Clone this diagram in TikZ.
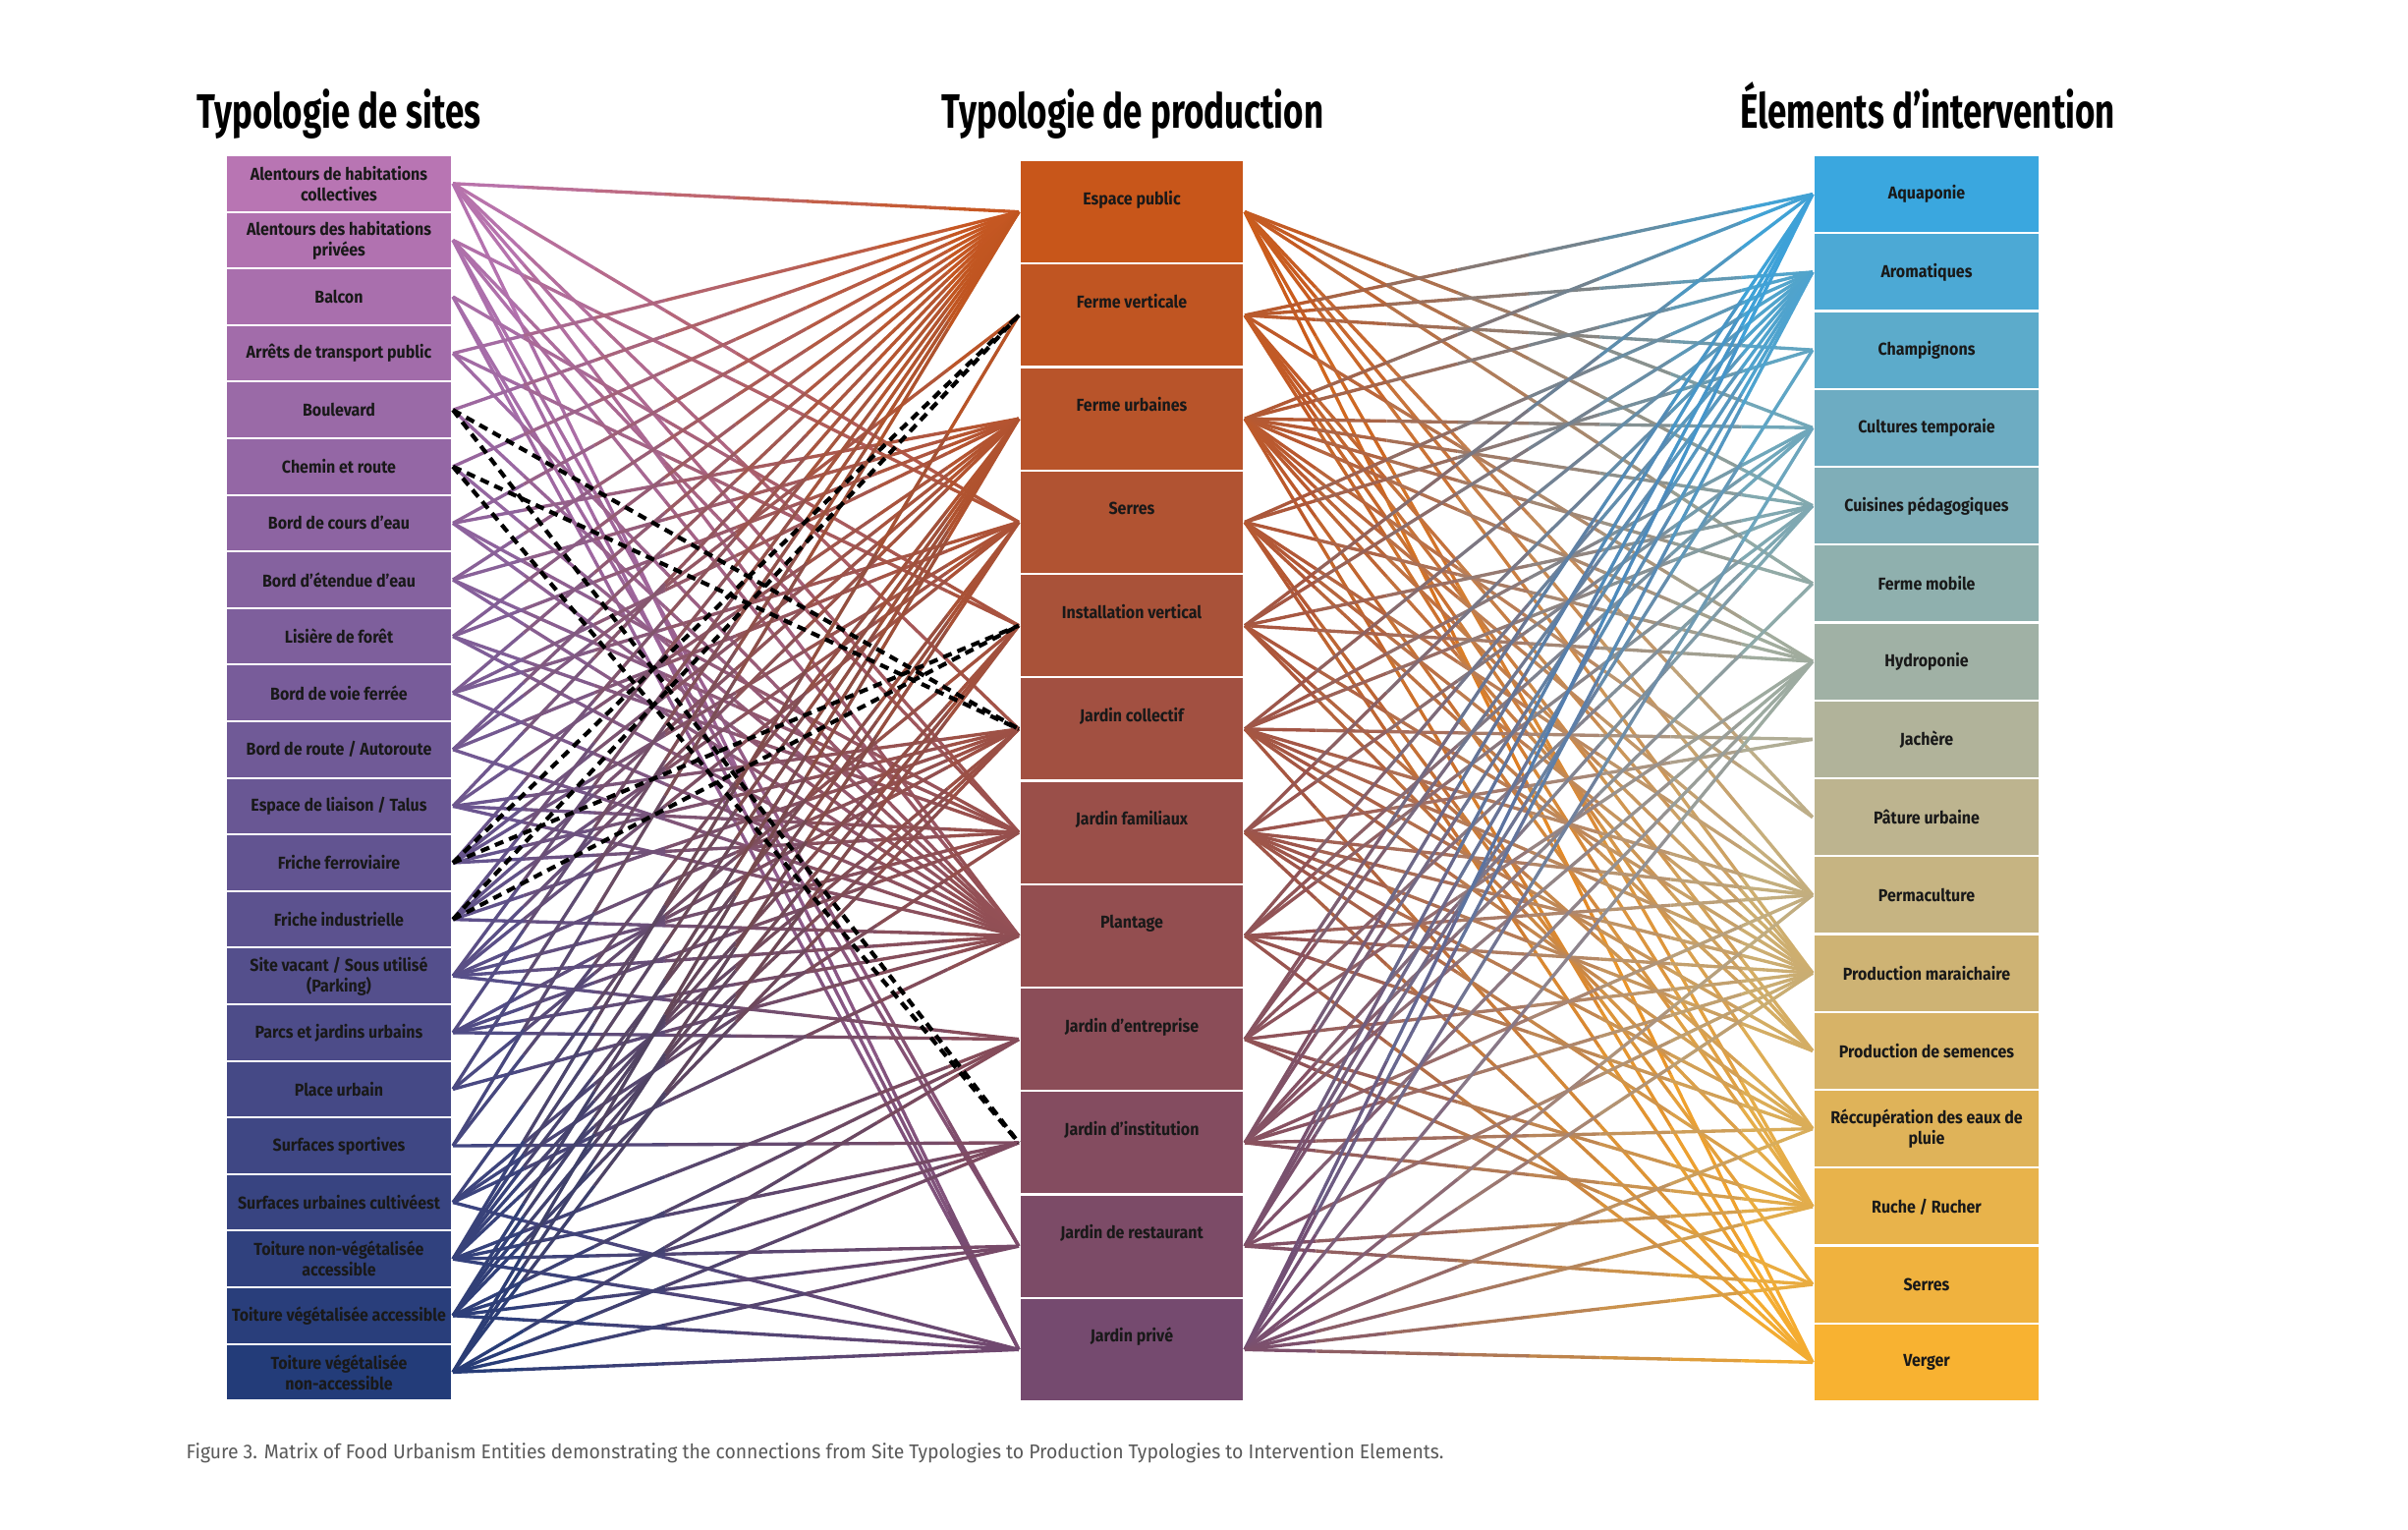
\documentclass[tikz,border=0pt]{standalone}
\usepackage{fontspec}
\newfontfamily\cellfont{Fira Sans}[FakeStretch=0.91]
\newfontfamily\titlefont{Fira Sans}[FakeStretch=0.71]
\newfontfamily\captionfont{Fira Sans}[FakeStretch=0.95]
\usepackage{tikz}
\usetikzlibrary{calc,positioning}
\definecolor{siteTop}{HTML}{B875B3}
\definecolor{siteBot}{HTML}{233C79}
\definecolor{prodTop}{HTML}{C8561A}
\definecolor{prodBot}{HTML}{754A6F}
\definecolor{elemTop}{HTML}{3AA7DF}
\definecolor{elemMid}{HTML}{B9B496}
\definecolor{elemBot}{HTML}{F8B231}
\tikzstyle{cell} = [draw=white, line width=0.6pt, inner sep=0pt, align=center, text=black!90, font=\cellfont\bfseries\fontsize{5}{6}\selectfont]
\tikzstyle{sitecell} = [cell, minimum width=2.30cm, minimum height=0.576cm]
\tikzstyle{prodcell} = [cell, minimum width=2.28cm, minimum height=1.0525cm, text height=0.12cm, text depth=0.27cm]
\tikzstyle{elemcell} = [cell, minimum width=2.30cm, minimum height=0.7925cm]
\tikzstyle{linkline} = [line width=0.95pt]
\tikzstyle{dashlink} = [draw=black, line width=1.2pt, dash pattern=on 2.6pt off 1.8pt]
\tikzstyle{coltitle} = [anchor=base, font=\titlefont\bfseries\fontsize{14}{16}\selectfont]
\tikzset{>=latex}
\newcommand{\gradlink}[4]{%
  \foreach \k in {0,...,7}{%
    \pgfmathsetmacro{\lkA}{\k/8}%
    \pgfmathsetmacro{\lkB}{(\k+1)/8}%
    \pgfmathtruncatemacro{\lkP}{94-12.5*\k}%
    \draw[linkline, draw=#3!\lkP!#4] ($(#1)!\lkA!(#2)$) -- ($(#1)!\lkB!(#2)$);
  }}

\begin{document}
\begin{tikzpicture}
  \useasboundingbox (0,0) rectangle (24.51,-15.56);
  \foreach \i in {1,...,22}{\pgfmathtruncatemacro{\lkP}{100-100*(\i-1)/21}\xglobal\colorlet{cL\i}{siteTop!\lkP!siteBot}}
  \foreach \i in {1,...,12}{\pgfmathtruncatemacro{\lkP}{100-100*(\i-1)/11}\xglobal\colorlet{cM\i}{prodTop!\lkP!prodBot}}
  \foreach \i in {1,...,16}{%
    \ifnum\i<9
      \pgfmathtruncatemacro{\lkP}{100-100*(\i-1)/7.5}\xglobal\colorlet{cE\i}{elemTop!\lkP!elemMid}
    \else
      \pgfmathtruncatemacro{\lkP}{100-100*(\i-8.5)/7.5}\xglobal\colorlet{cE\i}{elemMid!\lkP!elemBot}
    \fi}

  \node[coltitle] (sitetitle) at (3.45,-1.31) {Typologie de sites};
  \node[coltitle] (prodtitle) at (11.53,-1.31) {Typologie de production};
  \node[coltitle] (elemtitle) at (19.62,-1.31) {Élements d’intervention};

  \foreach \txt [count=\i] in {Alentours de habitations\\collectives, Alentours des habitations\\privées, Balcon, Arrêts de transport public, Boulevard, Chemin et route, Bord de cours d’eau, Bord d’étendue d’eau, Lisière de forêt, Bord de voie ferrée, Bord de route / Autoroute, Espace de liaison / Talus, Friche ferroviaire, Friche industrielle, Site vacant / Sous utilisé\\(Parking), Parcs et jardins urbains, Place urbain, Surfaces sportives, Surfaces urbaines cultivéest, Toiture non-végétalisée\\accessible, Toiture végétalisée accessible, Toiture végétalisée\\non-accessible}
    \node[sitecell, fill=cL\i] (s\i) at (3.45,{-1.58-0.576*(\i-0.5)}) {\txt};

  \foreach \txt [count=\i] in {Espace public, Ferme verticale, Ferme urbaines, Serres, Installation vertical, Jardin collectif, Jardin familiaux, Plantage, Jardin d’entreprise, Jardin d’institution, Jardin de restaurant, Jardin privé}
    \node[prodcell, fill=cM\i] (p\i) at (11.52,{-1.63-1.0525*(\i-0.5)}) {\txt};

  \foreach \txt [count=\i] in {Aquaponie, Aromatiques, Champignons, Cultures temporaie, Cuisines pédagogiques, Ferme mobile, Hydroponie, Jachère, Pâture urbaine, Permaculture, Production maraichaire, Production de semences, Réccupération des eaux de\\pluie, Ruche / Rucher, Serres, Verger}
    \node[elemcell, fill=cE\i] (e\i) at (19.61,{-1.58-0.7925*(\i-0.5)}) {\txt};

  \foreach \src/\dests in {1/{1,4,6,7,8,12}, 2/{4,7,8,11,12}, 3/{5,11,12}, 4/{1,5,8}, 5/{1,8}, 6/{1,8}, 7/{1,3,7,8}, 8/{1,3,7,8}, 9/{1,3,7,8}, 10/{1,3,4,8}, 11/{1,2,4,8}, 12/{1,3,6,7,8}, 13/{1,3,4,6,7}, 14/{1,3,4,6,8}, 15/{1,3,4,6,7,8,9}, 16/{1,6,7,8,9}, 17/{1,5,8}, 18/{1,3,10}, 19/{3,6,7,8,12}, 20/{2,3,4,5,6,9,10,11,12}, 21/{3,4,5,6,9,10,11,12}, 22/{3,4,5,9,10,11,12}}
    \foreach \dst in \dests {\gradlink{s\src.east}{p\dst.west}{cL\src}{cM\dst}}

  \foreach \src/\dests in {1/{4,5,6,9,10,11,14,16}, 2/{1,2,3,7,11,12,13,14}, 3/{1,2,4,5,6,7,9,10,11,12,14,16}, 4/{2,3,7,10,11,12,15,16}, 5/{1,2,5,7,11,13,14}, 6/{2,4,5,8,10,11,12,13,16}, 7/{2,4,8,10,11,12,13,14,16}, 8/{2,4,5,10,11,13,16}, 9/{1,2,5,7,11,14,15}, 10/{1,2,5,6,7,10,11,13,14}, 11/{1,2,3,7,11,14,15}, 12/{1,2,4,7,10,11,13,14,15,16}}
    \foreach \dst in \dests {\gradlink{p\src.east}{e\dst.west}{cM\src}{cE\dst}}

  \foreach \src/\dst in {5/6, 5/10, 6/6, 6/10, 13/2, 13/5, 14/2, 14/5}
    \draw[dashlink] (s\src.east) -- (p\dst.west);

  \node[anchor=west, inner sep=0pt, text=black!65, font=\captionfont\fontsize{5.8}{7}\selectfont] (caption) at (1.89,-14.79) {Figure 3. Matrix of Food Urbanism Entities demonstrating the connections from Site Typologies to Production Typologies to Intervention Elements.};
\end{tikzpicture}
\end{document}
